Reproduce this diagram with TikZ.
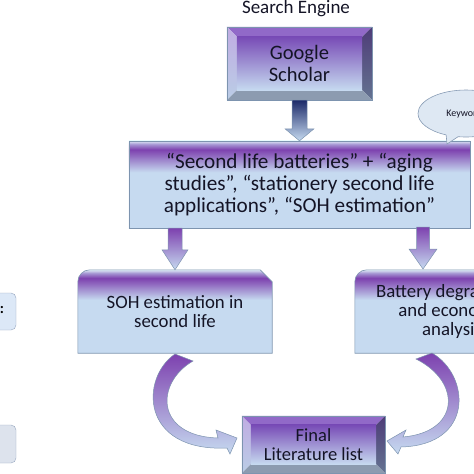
\documentclass[tikz,border=0pt]{standalone}
\usepackage{fontspec}
\setmainfont{Carlito}
\usetikzlibrary{calc,backgrounds,shapes.callouts}

\definecolor{lb}{RGB}{198,218,240}
\definecolor{pu}{RGB}{125,65,175}
\definecolor{edge}{RGB}{125,148,175}
\definecolor{txt}{RGB}{20,20,38}
\definecolor{navy}{RGB}{28,42,105}
\definecolor{bvtop}{RGB}{145,105,200}
\definecolor{bvlt}{RGB}{192,172,226}
\definecolor{bvlb}{RGB}{186,205,230}
\definecolor{bvrt}{RGB}{78,60,120}
\definecolor{bvrb}{RGB}{100,115,145}
\definecolor{bvbot}{RGB}{140,155,176}
\definecolor{facetop}{RGB}{120,75,182}
\definecolor{facemid}{RGB}{170,160,215}
\definecolor{bubfill}{RGB}{222,232,243}
\definecolor{bubedge}{RGB}{135,155,180}
\definecolor{lpfa}{RGB}{220,232,247}
\definecolor{lpfb}{RGB}{221,227,237}
\definecolor{lpedge}{RGB}{150,166,190}
\colorlet{puA}{pu!70!lb}
\colorlet{puB}{pu!45!lb}
\colorlet{lbW}{lb!60!white}

\pgfdeclareverticalshading{topband}{100bp}{color(0bp)=(lb); color(57bp)=(lb); color(66bp)=(puA); color(70bp)=(pu); color(73bp)=(puB); color(75bp)=(lbW); color(100bp)=(lbW)}

\newcommand\bevelbox[2]{%
 \coordinate (#1-inw) at ($(#1.north west)+(#2,#2)$);
 \coordinate (#1-ine) at ($(#1.north east)+(-#2,#2)$);
 \coordinate (#1-ise) at ($(#1.south east)+(-#2,-#2)$);
 \coordinate (#1-isw) at ($(#1.south west)+(#2,-#2)$);
 \fill[bvtop] (#1.north west) -- (#1.north east) -- (#1-ine) -- (#1-inw) -- cycle;
 \shade[top color=bvlt, bottom color=bvlb] (#1.north west) -- (#1-inw) -- (#1-isw) -- (#1.south west) -- cycle;
 \shade[top color=bvrt, bottom color=bvrb] (#1.north east) -- (#1.south east) -- (#1-ise) -- (#1-ine) -- cycle;
 \fill[bvbot] (#1.south west) -- (#1-isw) -- (#1-ise) -- (#1.south east) -- cycle;
 \shade[top color=facetop, middle color=facemid, bottom color=lb] (#1-inw) rectangle (#1-ise);
 \draw[edge, line width=0.6pt] (#1.north west) rectangle (#1.south east);
}

\newcommand\sniproundbox[1]{%
 \shadedraw[shading=topband, draw=edge, line width=0.6pt] let \p1=(#1.north west), \p2=(#1.south east) in
 (\x1,\y2) -- (\x1,\y1-12pt) .. controls (\x1,\y1-5.4pt) and (\x1+5.4pt,\y1) .. (\x1+12pt,\y1)
 -- (\x2-12pt,\y1) -- (\x2,\y1-12pt) -- (\x2,\y2) -- cycle;
}

% block arrow from #1 (top) to #2 (tip); #3 top colour; #4 shaft half width; #5 head half width; #6 head length
\newcommand\blkarrow[6]{%
 \shadedraw[draw=edge, line width=0.5pt, top color=#3, middle color=lb!85!#3, bottom color=lb]
 let \p1=(#1), \p2=(#2) in
 (\x2-#4,\y1) -- (\x2+#4,\y1) -- (\x2+#4,\y2+#6) -- (\x2+#5,\y2+#6) -- (\x2,\y2)
 -- (\x2-#5,\y2+#6) -- (\x2-#4,\y2+#6) -- cycle;
}

\begin{document}
\begin{tikzpicture}[x=1pt,y=-1pt,
  lbl/.style={text=txt, align=center, inner sep=0pt}]
\useasboundingbox (0,0) rectangle (474,474);

% left partial boxes
\node[draw=lpedge, fill=lpfa, rounded corners=5pt, minimum width=46pt, minimum height=37pt, inner sep=0pt] (lpa) at (-7,311.5) {};
\node[text=black, inner sep=0pt, font=\bfseries\fontsize{15}{15}\selectfont] (lpat) at (2,310) {:};
\node[draw=lpedge, fill=lpfb, rounded corners=5pt, minimum width=46pt, minimum height=38pt, inner sep=0pt] (lpb) at (-7,444) {};

% text nodes
\node[lbl, anchor=base, font=\fontsize{19}{22}\selectfont] (se) at (296,13.5) {Search Engine};
\node[lbl, minimum width=145pt, minimum height=73pt, font=\fontsize{20.5}{22}\selectfont] (gs) at (299.5,63.5) {Google\\Scholar};
\node[lbl, minimum width=341pt, minimum height=87pt, font=\fontsize{21.2}{21.8}\selectfont] (kw) at (299.5,184.5)
  {“Second life batteries” + “aging\\studies”, “stationery second life\\applications”, “SOH estimation”};
\node[lbl, minimum width=194pt, minimum height=83pt, font=\fontsize{18.8}{18.5}\selectfont] (soh) at (175,311.5) {SOH estimation in\\second life};
\node[lbl, minimum width=194pt, minimum height=83pt, font=\fontsize{18.8}{19}\selectfont] (bat) at (452,311.5) {Battery degradation\\and economic\\analysis};
\node[lbl, minimum width=143pt, minimum height=57pt, font=\fontsize{18.5}{19}\selectfont] (fin) at (313.5,444.5) {Final\\Literature list};

\begin{scope}[on background layer]
 \bevelbox{gs}{10}
 \bevelbox{fin}{9}
 \shadedraw[shading=topband, draw=edge, line width=0.6pt] (kw.north west) rectangle (kw.south east);
 \sniproundbox{soh}
 \sniproundbox{bat}
\end{scope}

% speech bubble
\node[ellipse callout, draw=bubedge, fill=bubfill, line width=0.6pt, minimum width=96pt, minimum height=47pt,
  callout absolute pointer={(447,144)}, text=txt, font=\fontsize{10}{11}\selectfont] (kwb) at (466,113.5) {Keywords};

% block arrows
\coordinate (a3top) at (423,227);
\coordinate (a3tip) at (423,269);
\blkarrow{gs.south}{kw.north}{navy}{7.5pt}{14.5pt}{12pt}
\blkarrow{kw.south -| soh.north}{soh.north}{pu}{7pt}{13pt}{20pt}
\blkarrow{a3top}{a3tip}{pu}{6.5pt}{14pt}{20pt}

% curved arrows
\shadedraw[draw=edge, line width=0.5pt, top color=pu, middle color=pu!35!lb, bottom color=lb]
 (175,354) .. controls (140,378) and (140,452) .. (227,448) -- (230,454) -- (237,438) -- (216,430) -- (218,438)
 .. controls (155,436) and (155,383) .. (193,361) -- cycle;
\shadedraw[draw=edge, line width=0.5pt, top color=pu, middle color=pu!35!lb, bottom color=lb]
 (432,353) .. controls (470,375) and (475,445) .. (401,447) -- (398,454) -- (387,441) -- (406,430) -- (403,437)
 .. controls (460,432) and (462,382) .. (416,359) -- cycle;
\end{tikzpicture}
\end{document}
